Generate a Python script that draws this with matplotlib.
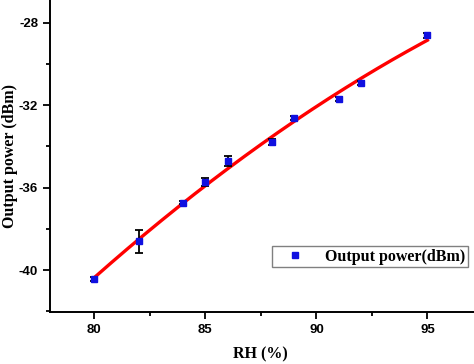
import numpy as np
import matplotlib
matplotlib.use("Agg")
import matplotlib.pyplot as plt
from matplotlib.ticker import MultipleLocator
from matplotlib.lines import Line2D

plt.rcParams['axes.unicode_minus'] = False

rh = [80, 82, 84, 85, 86, 88, 89, 91, 92, 95]
power = [-40.45, -38.6, -36.72, -35.72, -34.72, -33.78, -32.61, -31.72, -30.92, -28.6]
err = [0.1, 0.55, 0.08, 0.2, 0.25, 0.15, 0.1, 0.1, 0.08, 0.12]
xticks = [80, 85, 90, 95]
yticks = [-40, -36, -32, -28]

fig = plt.figure(figsize=(4.74, 3.64), dpi=100)
ax = fig.add_axes([50/474, 52/364, 1 - 50/474, 1 - 52/364])

coef = np.polyfit(rh, power, 2)
xf = np.linspace(min(rh), max(rh), 200)
ax.plot(xf, np.polyval(coef, xf), color='#ff0000', lw=2.4, zorder=2)
ax.errorbar(rh, power, yerr=err, fmt='s', color='#1010e0', ms=4.5,
            ecolor='black', elinewidth=1.3, capsize=3, capthick=1.3, zorder=3)

ax.set_xlim(78, 97.1)
ax.set_ylim(-42.03, -26.9)
ax.set_xticks(xticks)
ax.set_yticks(yticks)
ax.xaxis.set_minor_locator(MultipleLocator(2.5))
ax.yaxis.set_minor_locator(MultipleLocator(2))
for s in ['top', 'right']:
    ax.spines[s].set_visible(False)
for s in ['left', 'bottom']:
    ax.spines[s].set_linewidth(1.4)
ax.tick_params(which='major', direction='out', length=5, width=1.3)
ax.tick_params(which='minor', direction='out', length=3, width=1.3)
for lab in ax.get_xticklabels() + ax.get_yticklabels():
    lab.set_fontfamily('Liberation Sans')
    lab.set_fontweight('bold')
    lab.set_fontsize(9.5)

ax.set_xlabel('RH (%)', fontfamily='Liberation Serif', fontweight='bold', fontsize=11.5)
ax.set_ylabel('Output power (dBm)', fontfamily='Liberation Serif', fontweight='bold', fontsize=11.5)
ax.xaxis.set_label_coords((260 - 50) / 424, -(354 - 312) / 312)
ax.yaxis.set_label_coords((10 - 50) / 424, 0.5)
ax.xaxis.label.set_va('center')
ax.yaxis.label.set_va('center')

proxy = Line2D([], [], ls='none', marker='s', color='#1010e0', ms=4.5)
leg = ax.legend([proxy], ['Output power(dBm)'], loc='lower right',
                bbox_to_anchor=(468/474, (364-267)/364), bbox_transform=fig.transFigure,
                prop={'family': 'Liberation Serif', 'weight': 'bold', 'size': 11.5},
                fancybox=False, edgecolor='#808080', framealpha=1, handletextpad=0.6,
                borderpad=0.15, borderaxespad=0, handlelength=2.6)
leg.get_frame().set_linewidth(1.0)

fig.savefig('out.png', dpi=100)
